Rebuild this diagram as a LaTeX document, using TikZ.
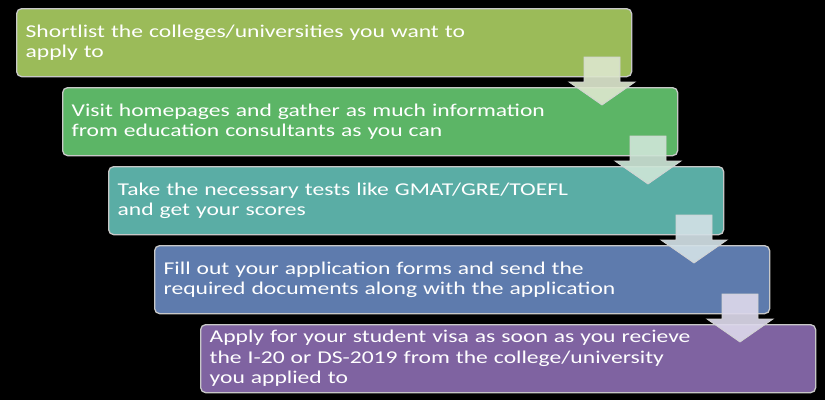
\documentclass[tikz,border=0pt]{standalone}
\usepackage{fontspec}
\setmainfont{Carlito}[FakeStretch=1.31,WordSpace=0.75]
\definecolor{cA}{HTML}{9BBB59}
\definecolor{cB}{HTML}{5CB566}
\definecolor{cC}{HTML}{5AADA5}
\definecolor{cD}{HTML}{5E7BAD}
\definecolor{cE}{HTML}{7F63A1}
\definecolor{aA}{HTML}{DCE6CC}
\definecolor{aB}{HTML}{CDE5D6}
\definecolor{aC}{HTML}{D2E0E6}
\definecolor{aD}{HTML}{DCD8EA}
\definecolor{edge}{HTML}{C8C8C8}
\tikzset{
  stepbox/.style={draw=edge, line width=1.3pt, rounded corners=5pt,
    minimum width=615pt, minimum height=68pt, anchor=north west,
    text width=597pt, inner xsep=9pt, inner ysep=0pt, align=left,
    text=white, font=\fontsize{18}{20.5}\selectfont},
  downarr/.style={draw=edge!80!white, line width=0.8pt, fill opacity=0.92, line join=miter}
}
\newcommand{\myarrow}[2]{%
  \path[downarr, fill=#2] ([xshift=-18pt]#1) -- ([xshift=18pt]#1) -- ([xshift=18pt,yshift=-25pt]#1)
   -- ([xshift=33pt,yshift=-25pt]#1) -- ([yshift=-48pt]#1) -- ([xshift=-33pt,yshift=-25pt]#1)
   -- ([xshift=-18pt,yshift=-25pt]#1) -- cycle;}
\begin{document}
\begin{tikzpicture}[x=1pt,y=-1pt]
\fill[black] (0,0) rectangle (825,400);
\useasboundingbox (0,0) rectangle (825,400);
\node[stepbox, fill=cA] (b1) at (16,8) {Shortlist the colleges/universities you want to\\apply to};
\node[stepbox, fill=cB] (b2) at (62,87) {Visit homepages and gather as much information\\from education consultants as you can};
\node[stepbox, fill=cC] (b3) at (108,166) {Take the necessary tests like GMAT/GRE/TOEFL\\and get your scores};
\node[stepbox, fill=cD] (b4) at (154,245) {Fill out your application forms and send the\\required documents along with the application};
\node[stepbox, fill=cE] (b5) at (200,324) {Apply for your student visa as soon as you recieve\\the I-20 or DS-2019 from the college/university\\you applied to};
\coordinate (a1) at (602,57);
\coordinate (a2) at (648,136);
\coordinate (a3) at (694,215);
\coordinate (a4) at (740,294);
\myarrow{a1}{aA}
\myarrow{a2}{aB}
\myarrow{a3}{aC}
\myarrow{a4}{aD}
\end{tikzpicture}
\end{document}
